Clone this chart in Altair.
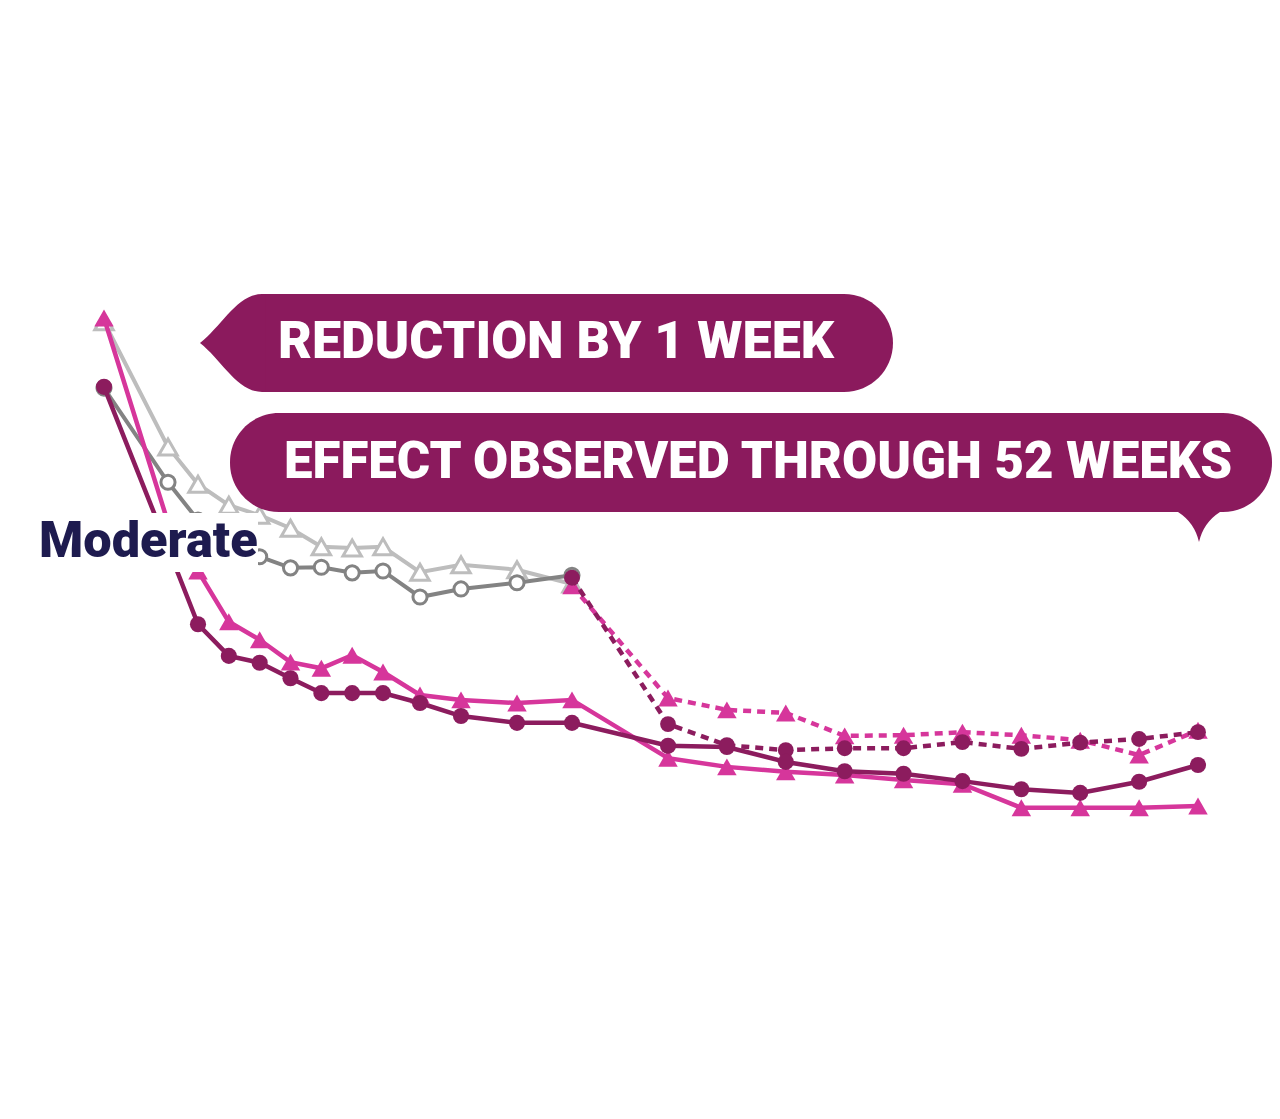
import altair as alt
import pandas as pd

# weeks on study
weeks = [0, 1, 2, 3, 4, 5, 6, 7, 8, 9, 10, 11, 12, 16, 20, 24, 28, 32, 36, 40, 44, 48, 52]
weeks_pbo = [0, 1, 2, 3, 4, 5, 6, 7, 8, 9, 10, 11, 12]
weeks_ext = [12, 16, 20, 24, 28, 32, 36, 40, 44, 48, 52]

# mean frequency of moderate-to-severe events
high_dose = [11.0, 7.7, 6.92, 6.10, 5.81, 5.45, 5.35, 5.56, 5.29, 4.92, 4.84, 4.79, 4.84,
             3.90, 3.76, 3.68, 3.63, 3.55, 3.48, 3.10, 3.10, 3.10, 3.13]
low_dose = [9.89, 7.29, 6.06, 5.55, 5.44, 5.19, 4.95, 4.95, 4.95, 4.79, 4.58, 4.47, 4.47,
            4.10, 4.08, 3.84, 3.69, 3.65, 3.53, 3.40, 3.34, 3.52, 3.79]
placebo_a = [10.94, 8.92, 8.32, 7.98, 7.82, 7.61, 7.31, 7.29, 7.31, 6.90, 7.02, 6.94, 6.71]
placebo_b = [9.87, 8.35, 7.74, 7.42, 7.15, 6.97, 6.98, 6.89, 6.92, 6.50, 6.63, 6.73, 6.85]
switch_high = [6.68, 4.87, 4.68, 4.63, 4.26, 4.27, 4.32, 4.27, 4.19, 3.95, 4.35]
switch_low = [6.81, 4.45, 4.11, 4.03, 4.06, 4.06, 4.16, 4.05, 4.15, 4.21, 4.32]

label_top = "REDUCTION BY 1 WEEK"
label_bottom = "EFFECT OBSERVED THROUGH 52 WEEKS"
label_group = "Moderate"

PINK = "#D6369B"
PLUM = "#8C1C5E"
LIGHT_GREY = "#BDBDBD"
DARK_GREY = "#838383"
BOX = "#8B1A5D"
NAVY = "#1E1B4F"

x_scale = alt.Scale(domain=[0, 1, 2, 8, 9, 10, 11, 12, 16, 52],
                    range=[96, 160, 190, 375, 412, 453, 509, 564, 660, 1190],
                    nice=False, zero=False)
y_scale = alt.Scale(domain=[-1.5, 16], nice=False, zero=False)


def series(x, y, color, shape, open_marker=False, dash=None, width=4.5, size=260):
    src = pd.DataFrame({"week": x, "value": y})
    enc = dict(x=alt.X("week:Q", scale=x_scale, axis=None),
               y=alt.Y("value:Q", scale=y_scale, axis=None))
    line_kw = dict(color=color, strokeWidth=width)
    if dash:
        line_kw["strokeDash"] = dash
    line = alt.Chart(src).mark_line(**line_kw).encode(**enc)
    if open_marker:
        pts = alt.Chart(src).mark_point(shape=shape, filled=True, fill="white", stroke=color,
                                        strokeWidth=3, size=size, opacity=1).encode(**enc)
    else:
        pts = alt.Chart(src).mark_point(shape=shape, filled=True, fill=color,
                                        size=size, opacity=1).encode(**enc)
    return line + pts


one = pd.DataFrame({"k": [0]})

mask = alt.Chart(one).mark_rect(color="white").encode(
    x=alt.value(0), x2=alt.value(250), y=alt.value(505), y2=alt.value(564))
group_text = alt.Chart(one).mark_text(
    text=label_group, align="left", baseline="alphabetic", font="Roboto",
    fontSize=50.5, fontWeight=900, color=NAVY).encode(x=alt.value(31), y=alt.value(549))

box_top = alt.Chart(one).mark_rect(
    color=BOX, cornerRadiusTopRight=49, cornerRadiusBottomRight=49).encode(
    x=alt.value(254), x2=alt.value(885), y=alt.value(286), y2=alt.value(384))
tip_top = alt.Chart(one).mark_point(
    shape="M 1.1 -1.58 L 1 -1.58 C 0.2 -1.58 -0.3 -0.55 -1 0 C -0.3 0.55 0.2 1.58 1 1.58 L 1.1 1.58 Z",
    filled=True, fill=BOX, opacity=1, size=3844).encode(x=alt.value(223), y=alt.value(335))
text_top = alt.Chart(one).mark_text(
    text=label_top, align="left", baseline="alphabetic", font="Roboto",
    fontSize=52, fontWeight=900, color="white").encode(x=alt.value(270), y=alt.value(350))

box_bottom = alt.Chart(one).mark_rect(color=BOX, cornerRadius=49).encode(
    x=alt.value(222), x2=alt.value(1264), y=alt.value(405), y2=alt.value(504))
tip_bottom = alt.Chart(one).mark_point(
    shape="M 0 1 Q -0.3 -0.3 -1.4 -1 L -1.4 -1.6 L 1.4 -1.6 L 1.4 -1 Q 0.3 -0.3 0 1 Z",
    filled=True, fill=BOX, opacity=1, size=900).encode(x=alt.value(1191), y=alt.value(519))
text_bottom = alt.Chart(one).mark_text(
    text=label_bottom, align="left", baseline="alphabetic", font="Roboto",
    fontSize=51, fontWeight=900, color="white").encode(x=alt.value(276), y=alt.value(470))

chart = alt.layer(
    series(weeks_pbo, placebo_a, LIGHT_GREY, "triangle-up", open_marker=True, width=4, size=340),
    series(weeks_pbo, placebo_b, DARK_GREY, "circle", open_marker=True, width=4, size=200),
    series(weeks_ext, switch_high, PINK, "triangle-up", dash=[8, 6], size=380),
    series(weeks_ext, switch_low, PLUM, "circle", dash=[8, 6], size=250),
    series(weeks, high_dose, PINK, "triangle-up", size=380),
    series(weeks, low_dose, PLUM, "circle", size=260),
    mask, group_text,
    box_top, tip_top, text_top,
    box_bottom, tip_bottom, text_bottom,
).properties(width=1264, height=1085, padding=0).configure_view(strokeWidth=0)

chart.save("out.html", embed_options={"renderer": "svg", "actions": False})
